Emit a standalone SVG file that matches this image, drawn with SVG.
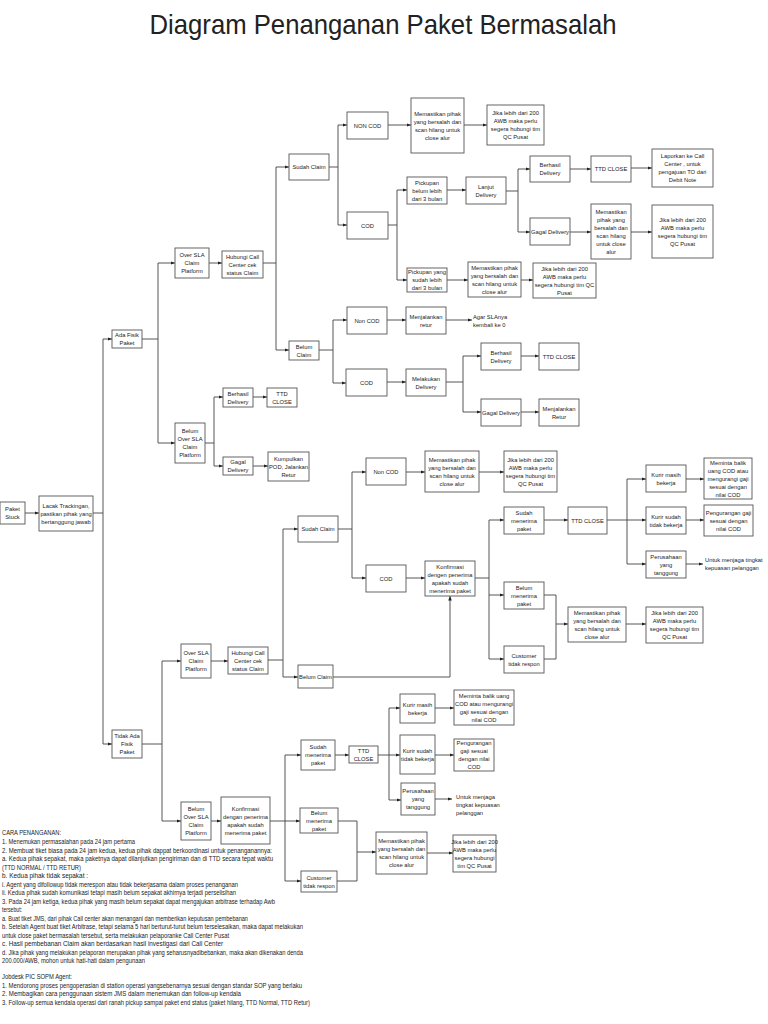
<svg xmlns="http://www.w3.org/2000/svg" width="768" height="1024" viewBox="0 0 768 1024">
<style>
.n rect{fill:#fff;stroke:#555;stroke-width:0.9}
.n text,.t{font-family:"Liberation Sans",Arial,sans-serif;font-size:5.8px;fill:#222;text-anchor:middle}
.t{text-anchor:start}
.c path{fill:none;stroke:#444;stroke-width:0.9}
.note{font-family:"Liberation Sans",Arial,sans-serif;font-size:6.6px;fill:#222}
</style>
<defs>
<marker id="a" viewBox="0 0 10 10" refX="10" refY="5" markerWidth="4.5" markerHeight="4.5" markerUnits="userSpaceOnUse" orient="auto"><path d="M0,1L10,5L0,9z" fill="#222"/></marker>
</defs>
<rect width="768" height="1024" fill="#fff"/>
<text x="383" y="34" font-family="Liberation Sans,Arial,sans-serif" font-size="28" fill="#222" text-anchor="middle" textLength="467" lengthAdjust="spacingAndGlyphs">Diagram Penanganan Paket Bermasalah</text>

<g class="c" marker-end="url(#a)">
<path d="M25,513H39"/>
<path d="M93,513H103V339H112"/>
<path d="M103,513V744H112"/>
<path d="M142,339H158V263H175"/>
<path d="M158,339V443H175"/>
<path d="M209,263H222"/>
<path d="M263,263H276V167H289"/>
<path d="M276,263V350H289"/>
<path d="M329,167H338V125H347"/>
<path d="M338,167V225H347"/>
<path d="M388,125H411"/>
<path d="M464,125H487"/>
<path d="M388,225H397V190H407"/>
<path d="M397,225V280H407"/>
<path d="M447,190H466"/>
<path d="M506,191H518V169H530"/>
<path d="M518,191V232H530"/>
<path d="M570,169H591"/>
<path d="M631,168H652"/>
<path d="M570,232H591"/>
<path d="M631,232H652"/>
<path d="M447,280H468"/>
<path d="M521,280H533"/>
<path d="M319,350H333V320H347"/>
<path d="M333,350V383H346"/>
<path d="M387,320H406"/>
<path d="M446,320H472"/>
<path d="M387,382H406"/>
<path d="M446,382H463V356H481"/>
<path d="M463,382V412H481"/>
<path d="M521,356H539"/>
<path d="M521,412H539"/>
<path d="M205,443H214V397H223"/>
<path d="M214,443V466H223"/>
<path d="M253,397H267"/>
<path d="M253,466H268"/>
<path d="M142,744H162V661H181"/>
<path d="M162,744V821H181"/>
<path d="M211,661H228"/>
<path d="M268,660H283V529H298"/>
<path d="M283,660V677H298"/>
<path d="M338,529H352V472H366"/>
<path d="M352,529V578H366"/>
<path d="M406,472H425"/>
<path d="M479,472H504"/>
<path d="M406,578H425"/>
<path d="M475,578H489V520H504"/>
<path d="M489,578V595H504"/>
<path d="M489,595V659H504"/>
<path d="M333,677H450V596"/>
<path d="M544,520H568"/>
<path d="M607,520H627V479H646"/>
<path d="M627,520H646"/>
<path d="M627,520V564H646"/>
<path d="M686,479H704"/>
<path d="M686,520H704"/>
<path d="M686,564H703"/>
<path d="M544,595H556V624H568"/>
<path d="M544,659H556V624" marker-end="none"/>
<path d="M626,624H646"/>
<path d="M211,821H221"/>
<path d="M270,821H285V755H301"/>
<path d="M285,821H300"/>
<path d="M285,821V881H301"/>
<path d="M335,755H349"/>
<path d="M378,755H389V708H400"/>
<path d="M389,755H400"/>
<path d="M389,755V800H401"/>
<path d="M435,708H454"/>
<path d="M435,755H454"/>
<path d="M435,799H452"/>
<path d="M338,821H357V852H376"/>
<path d="M337,881H357V852" marker-end="none"/>
<path d="M427,853H453"/>
</g>

<g id="n1" class="n"><rect x="0" y="502" width="25" height="22"/><text x="12.5" y="511">Paket<tspan x="12.5" dy="8">Stuck</tspan></text></g>
<g id="n2" class="n"><rect x="39" y="496" width="54" height="35"/><text x="66" y="507.5">Lacak Trackingan,<tspan x="66" dy="8">pastikan pihak yang</tspan><tspan x="66" dy="8">bertanggung jawab</tspan></text></g>
<g id="n3" class="n"><rect x="112" y="330" width="30" height="18"/><text x="127" y="337">Ada Fisik<tspan x="127" dy="8">Paket</tspan></text></g>
<g id="n4" class="n"><rect x="112" y="730" width="30" height="28"/><text x="127" y="738">Tidak Ada<tspan x="127" dy="8">Fisik</tspan><tspan x="127" dy="8">Paket</tspan></text></g>
<g id="n5" class="n"><rect x="175" y="248" width="34" height="30"/><text x="192" y="257">Over SLA<tspan x="192" dy="8">Claim</tspan><tspan x="192" dy="8">Platform</tspan></text></g>
<g id="n6" class="n"><rect x="222" y="251" width="41" height="27"/><text x="242.5" y="258.5">Hubungi Call<tspan x="242.5" dy="8">Center cek</tspan><tspan x="242.5" dy="8">status Claim</tspan></text></g>
<g id="n7" class="n"><rect x="289" y="154" width="40" height="26"/><text x="309" y="169">Sudah Claim</text></g>
<g id="n8" class="n"><rect x="347" y="112" width="41" height="27"/><text x="367.5" y="127.5">NON COD</text></g>
<g id="n9" class="n"><rect x="411" y="98" width="53" height="55"/><text x="437.5" y="115.5">Memastikan pihak<tspan x="437.5" dy="8">yang bersalah dan</tspan><tspan x="437.5" dy="8">scan hilang untuk</tspan><tspan x="437.5" dy="8">close alur</tspan></text></g>
<g id="n10" class="n"><rect x="487" y="105" width="57" height="40"/><text x="515.5" y="115">Jika lebih dari 200<tspan x="515.5" dy="8">AWB maka perlu</tspan><tspan x="515.5" dy="8">segera hubungi tim</tspan><tspan x="515.5" dy="8">QC Pusat</tspan></text></g>
<g id="n11" class="n"><rect x="347" y="212" width="41" height="27"/><text x="367.5" y="227.5">COD</text></g>
<g id="n12" class="n"><rect x="407" y="177" width="40" height="27"/><text x="427" y="184.5">Pickupan<tspan x="427" dy="8">belum lebih</tspan><tspan x="427" dy="8">dari 3 bulan</tspan></text></g>
<g id="n13" class="n"><rect x="466" y="177" width="40" height="27"/><text x="486" y="188.5">Lanjut<tspan x="486" dy="8">Delivery</tspan></text></g>
<g id="n14" class="n"><rect x="530" y="156" width="40" height="26"/><text x="550" y="167">Berhasil<tspan x="550" dy="8">Delivery</tspan></text></g>
<g id="n15" class="n"><rect x="591" y="156" width="40" height="26"/><text x="611" y="171">TTD CLOSE</text></g>
<g id="n16" class="n"><rect x="652" y="149" width="61" height="38"/><text x="682.5" y="158">Laporkan ke Call<tspan x="682.5" dy="8">Center , untuk</tspan><tspan x="682.5" dy="8">pengajuan TO dari</tspan><tspan x="682.5" dy="8">Debit Note</tspan></text></g>
<g id="n17" class="n"><rect x="530" y="218" width="40" height="27"/><text x="550" y="233.5">Gagal Delivery</text></g>
<g id="n18" class="n"><rect x="591" y="204" width="40" height="55"/><text x="611" y="213.5">Memastikan<tspan x="611" dy="8">pihak yang</tspan><tspan x="611" dy="8">bersalah dan</tspan><tspan x="611" dy="8">scan hilang</tspan><tspan x="611" dy="8">untuk close</tspan><tspan x="611" dy="8">alur</tspan></text></g>
<g id="n19" class="n"><rect x="652" y="205" width="61" height="53"/><text x="682.5" y="221.5">Jika lebih dari 200<tspan x="682.5" dy="8">AWB maka perlu</tspan><tspan x="682.5" dy="8">segera hubungi tim</tspan><tspan x="682.5" dy="8">QC Pusat</tspan></text></g>
<g id="n20" class="n"><rect x="407" y="268" width="40" height="24"/><text x="427" y="274">Pickupan yang<tspan x="427" dy="8">sudah lebih</tspan><tspan x="427" dy="8">dari 3 bulan</tspan></text></g>
<g id="n21" class="n"><rect x="468" y="262" width="53" height="35"/><text x="494.5" y="269.5">Memastikan pihak<tspan x="494.5" dy="8">yang bersalah dan</tspan><tspan x="494.5" dy="8">scan hilang untuk</tspan><tspan x="494.5" dy="8">close alur</tspan></text></g>
<g id="n22" class="n"><rect x="533" y="263" width="63" height="35"/><text x="564.5" y="270.5">Jika lebih dari 200<tspan x="564.5" dy="8">AWB maka perlu</tspan><tspan x="564.5" dy="8">segera hubungi tim QC</tspan><tspan x="564.5" dy="8">Pusat</tspan></text></g>
<g id="n23" class="n"><rect x="289" y="341" width="30" height="19"/><text x="304" y="348.5">Belum<tspan x="304" dy="8">Claim</tspan></text></g>
<g id="n24" class="n"><rect x="347" y="307" width="40" height="27"/><text x="367" y="322.5">Non COD</text></g>
<g id="n25" class="n"><rect x="406" y="307" width="40" height="27"/><text x="426" y="318.5">Menjalankan<tspan x="426" dy="8">retur</tspan></text></g>
<g id="n25b"><text class="t" x="473" y="319">Agar SLAnya<tspan x="473" dy="8">kembali ke 0</tspan></text></g>
<g id="n26" class="n"><rect x="346" y="369" width="41" height="27"/><text x="366.5" y="384.5">COD</text></g>
<g id="n27" class="n"><rect x="406" y="369" width="40" height="27"/><text x="426" y="380.5">Melakukan<tspan x="426" dy="8">Delivery</tspan></text></g>
<g id="n28" class="n"><rect x="481" y="343" width="40" height="27"/><text x="501" y="354.5">Berhasil<tspan x="501" dy="8">Delivery</tspan></text></g>
<g id="n29" class="n"><rect x="539" y="343" width="40" height="27"/><text x="559" y="358.5">TTD CLOSE</text></g>
<g id="n30" class="n"><rect x="481" y="399" width="40" height="27"/><text x="501" y="414.5">Gagal Delivery</text></g>
<g id="n31" class="n"><rect x="539" y="399" width="40" height="27"/><text x="559" y="410.5">Menjalankan<tspan x="559" dy="8">Retur</tspan></text></g>
<g id="n32" class="n"><rect x="175" y="423" width="30" height="40"/><text x="190" y="433">Belum<tspan x="190" dy="8">Over SLA</tspan><tspan x="190" dy="8">Claim</tspan><tspan x="190" dy="8">Platform</tspan></text></g>
<g id="n33" class="n"><rect x="223" y="388" width="30" height="19"/><text x="238" y="395.5">Berhasil<tspan x="238" dy="8">Delivery</tspan></text></g>
<g id="n34" class="n"><rect x="267" y="388" width="30" height="19"/><text x="282" y="395.5">TTD<tspan x="282" dy="8">CLOSE</tspan></text></g>
<g id="n35" class="n"><rect x="223" y="457" width="30" height="18"/><text x="238" y="464">Gagal<tspan x="238" dy="8">Delivery</tspan></text></g>
<g id="n36" class="n"><rect x="268" y="452" width="41" height="29"/><text x="288.5" y="460.5">Kumpulkan<tspan x="288.5" dy="8">POD, Jalankan</tspan><tspan x="288.5" dy="8">Retur</tspan></text></g>

<g id="n37" class="n"><rect x="181" y="644" width="30" height="34"/><text x="196" y="655">Over SLA<tspan x="196" dy="8">Claim</tspan><tspan x="196" dy="8">Platform</tspan></text></g>
<g id="n38" class="n"><rect x="228" y="647" width="40" height="27"/><text x="248" y="654.5">Hubungi Call<tspan x="248" dy="8">Center cek</tspan><tspan x="248" dy="8">status Claim</tspan></text></g>
<g id="n39" class="n"><rect x="298" y="516" width="40" height="26"/><text x="318" y="531">Sudah Claim</text></g>
<g id="n40" class="n"><rect x="366" y="458" width="40" height="27"/><text x="386" y="473.5">Non COD</text></g>
<g id="n41" class="n"><rect x="425" y="451" width="54" height="41"/><text x="452" y="461.5">Memastikan pihak<tspan x="452" dy="8">yang bersalah dan</tspan><tspan x="452" dy="8">scan hilang untuk</tspan><tspan x="452" dy="8">close alur</tspan></text></g>
<g id="n42" class="n"><rect x="504" y="451" width="53" height="41"/><text x="530.5" y="461.5">Jika lebih dari 200<tspan x="530.5" dy="8">AWB maka perlu</tspan><tspan x="530.5" dy="8">segera hubungi tim</tspan><tspan x="530.5" dy="8">QC Pusat</tspan></text></g>
<g id="n43" class="n"><rect x="366" y="565" width="40" height="27"/><text x="386" y="580.5">COD</text></g>
<g id="n44" class="n"><rect x="425" y="561" width="50" height="35"/><text x="450" y="568.5">Konfirmasi<tspan x="450" dy="8">dengen penerima</tspan><tspan x="450" dy="8">apakah sudah</tspan><tspan x="450" dy="8">menerima paket</tspan></text></g>
<g id="n45" class="n"><rect x="298" y="665" width="35" height="23"/><text x="315.5" y="678.5">Belum Claim</text></g>
<g id="n46" class="n"><rect x="504" y="507" width="40" height="27"/><text x="524" y="514.5">Sudah<tspan x="524" dy="8">menerima</tspan><tspan x="524" dy="8">paket</tspan></text></g>
<g id="n47" class="n"><rect x="568" y="507" width="39" height="27"/><text x="587.5" y="522.5">TTD CLOSE</text></g>
<g id="n48" class="n"><rect x="646" y="465" width="40" height="27"/><text x="666" y="476.5">Kurir masih<tspan x="666" dy="8">bekerja</tspan></text></g>
<g id="n49" class="n"><rect x="704" y="458" width="48" height="41"/><text x="728" y="464.5">Meminta balik<tspan x="728" dy="8">uang COD atau</tspan><tspan x="728" dy="8">mengurangi gaji</tspan><tspan x="728" dy="8">sesuai dengan</tspan><tspan x="728" dy="8">nilai COD</tspan></text></g>
<g id="n50" class="n"><rect x="646" y="507" width="40" height="27"/><text x="666" y="518.5">Kurir sudah<tspan x="666" dy="8">tidak bekerja</tspan></text></g>
<g id="n51" class="n"><rect x="704" y="505" width="49" height="31"/><text x="728.5" y="514.5">Pengurangan gaji<tspan x="728.5" dy="8">sesuai dengan</tspan><tspan x="728.5" dy="8">nilai COD</tspan></text></g>
<g id="n52" class="n"><rect x="646" y="551" width="40" height="27"/><text x="666" y="558.5">Perusahaan<tspan x="666" dy="8">yang</tspan><tspan x="666" dy="8">tanggung</tspan></text></g>
<g id="n52b"><text class="t" x="705" y="562">Untuk menjaga tingkat<tspan x="705" dy="8">kepuasan pelanggan</tspan></text></g>
<g id="n53" class="n"><rect x="504" y="582" width="40" height="27"/><text x="524" y="589.5">Belum<tspan x="524" dy="8">menerima</tspan><tspan x="524" dy="8">paket</tspan></text></g>
<g id="n54" class="n"><rect x="504" y="646" width="40" height="27"/><text x="524" y="657.5">Customer<tspan x="524" dy="8">tidak respon</tspan></text></g>
<g id="n55" class="n"><rect x="568" y="607" width="58" height="35"/><text x="597" y="614.5">Memastikan pihak<tspan x="597" dy="8">yang bersalah dan</tspan><tspan x="597" dy="8">scan hilang untuk</tspan><tspan x="597" dy="8">close alur</tspan></text></g>
<g id="n56" class="n"><rect x="646" y="607" width="57" height="36"/><text x="674.5" y="615">Jika lebih dari 200<tspan x="674.5" dy="8">AWB maka perlu</tspan><tspan x="674.5" dy="8">segera hubungi tim</tspan><tspan x="674.5" dy="8">QC Pusat</tspan></text></g>

<g id="n57" class="n"><rect x="400" y="694" width="35" height="29"/><text x="417.5" y="706.5">Kurir masih<tspan x="417.5" dy="8">bekerja</tspan></text></g>
<g id="n58" class="n"><rect x="454" y="690" width="60" height="35"/><text x="484" y="697.5">Meminta balik uang<tspan x="484" dy="8">COD atau mengurangi</tspan><tspan x="484" dy="8">gaji sesuai dengan</tspan><tspan x="484" dy="8">nilai COD</tspan></text></g>
<g id="n59" class="n"><rect x="301" y="740" width="34" height="30"/><text x="318" y="749">Sudah<tspan x="318" dy="8">menerima</tspan><tspan x="318" dy="8">paket</tspan></text></g>
<g id="n60" class="n"><rect x="349" y="746" width="29" height="17"/><text x="363.5" y="752.5">TTD<tspan x="363.5" dy="8">CLOSE</tspan></text></g>
<g id="n61" class="n"><rect x="400" y="735" width="35" height="39"/><text x="417.5" y="752.5">Kurir sudah<tspan x="417.5" dy="8">tidak bekerja</tspan></text></g>
<g id="n62" class="n"><rect x="454" y="739" width="40" height="32"/><text x="474" y="745">Pengurangan<tspan x="474" dy="8">gaji sesuai</tspan><tspan x="474" dy="8">dengan nilai</tspan><tspan x="474" dy="8">COD</tspan></text></g>
<g id="n63" class="n"><rect x="401" y="783" width="34" height="32"/><text x="418" y="793">Perusahaan<tspan x="418" dy="8">yang</tspan><tspan x="418" dy="8">tanggung</tspan></text></g>
<g id="n63b"><text class="t" x="456" y="799">Untuk menjaga<tspan x="456" dy="8">tingkat kepuasan</tspan><tspan x="456" dy="8">pelanggan</tspan></text></g>
<g id="n64" class="n"><rect x="181" y="802" width="30" height="38"/><text x="196" y="811">Belum<tspan x="196" dy="8">Over SLA</tspan><tspan x="196" dy="8">Claim</tspan><tspan x="196" dy="8">Platform</tspan></text></g>
<g id="n65" class="n"><rect x="221" y="797" width="49" height="47"/><text x="245.5" y="810.5">Konfirmasi<tspan x="245.5" dy="8">dengan penerima</tspan><tspan x="245.5" dy="8">apakah sudah</tspan><tspan x="245.5" dy="8">menerima paket</tspan></text></g>
<g id="n66" class="n"><rect x="300" y="808" width="38" height="25"/><text x="319" y="814.5">Belum<tspan x="319" dy="8">menerima</tspan><tspan x="319" dy="8">paket</tspan></text></g>
<g id="n67" class="n"><rect x="301" y="871" width="36" height="21"/><text x="319" y="879.5">Customer<tspan x="319" dy="8">tidak respon</tspan></text></g>
<g id="n68" class="n"><rect x="376" y="832" width="51" height="42"/><text x="401.5" y="843">Memastikan pihak<tspan x="401.5" dy="8">yang bersalah dan</tspan><tspan x="401.5" dy="8">scan hilang untuk</tspan><tspan x="401.5" dy="8">close alur</tspan></text></g>
<g id="n69" class="n"><rect x="453" y="835" width="43" height="37"/><text x="474.5" y="843.5">Jika lebih dari 200<tspan x="474.5" dy="8">AWB maka perlu</tspan><tspan x="474.5" dy="8">segera hubungi</tspan><tspan x="474.5" dy="8">tim QC Pusat</tspan></text></g>

<g id="notes" class="note" lengthAdjust="spacingAndGlyphs">
<text x="2" y="835" textLength="59" lengthAdjust="spacingAndGlyphs">CARA PENANGANAN:</text>
<text x="2" y="844" textLength="133" lengthAdjust="spacingAndGlyphs">1. Menemukan permasalahan pada 24 jam pertama</text>
<text x="2" y="852.5" textLength="270" lengthAdjust="spacingAndGlyphs">2. Membuat tiket biasa pada 24 jam kedua, kedua pihak dappat berkoordinasi untuk penanganannya:</text>
<text x="2" y="861" textLength="271" lengthAdjust="spacingAndGlyphs">a. Kedua pihak sepakat, maka paketnya dapat dilanjutkan pengiriman dan di TTD secara tepat waktu</text>
<text x="2" y="869.5" textLength="79" lengthAdjust="spacingAndGlyphs">(TTD NORMAL / TTD RETUR)</text>
<text x="2" y="878" textLength="86" lengthAdjust="spacingAndGlyphs">b. Kedua pihak tidak sepakat :</text>
<text x="2" y="886.5" textLength="236" lengthAdjust="spacingAndGlyphs">i. Agent yang difollowup tidak merespon atau tidak bekerjasama dalam proses penanganan</text>
<text x="2" y="895" textLength="234" lengthAdjust="spacingAndGlyphs">ii. Kedua pihak sudah komunikasi tetapi masih belum sepakat akhirnya terjadi perselisihan</text>
<text x="2" y="903.5" textLength="273" lengthAdjust="spacingAndGlyphs">3. Pada 24 jam ketiga, kedua pihak yang masih belum sepakat dapat mengajukan arbitrase terhadap Awb</text>
<text x="2" y="912" textLength="20" lengthAdjust="spacingAndGlyphs">tersebut:</text>
<text x="2" y="920.5" textLength="246" lengthAdjust="spacingAndGlyphs">a. Buat tiket JMS, dari pihak Call center akan menangani dan memberikan keputusan pembebanan</text>
<text x="2" y="929" textLength="301" lengthAdjust="spacingAndGlyphs">b. Setelah Agent buat tiket Arbitrase, tetapi selama 5 hari berturut-turut belum terselesaikan, maka dapat melakukan</text>
<text x="2" y="937.5" textLength="227" lengthAdjust="spacingAndGlyphs">untuk close paket bermasalah tersebut, serta melakukan pelaporanke Call Center Pusat</text>
<text x="2" y="946" textLength="221" lengthAdjust="spacingAndGlyphs">c. Hasil pembebanan Claim akan berdasarkan hasil investigasi dari Call Center</text>
<text x="2" y="954.5" textLength="301" lengthAdjust="spacingAndGlyphs">d. Jika pihak yang melakukan pelaporan merupakan pihak yang seharusnyadibebankan, maka akan dikenakan denda</text>
<text x="2" y="963" textLength="143" lengthAdjust="spacingAndGlyphs">200.000/AWB, mohon untuk hati-hati dalam pengunaan</text>
<text x="2" y="979" textLength="70" lengthAdjust="spacingAndGlyphs">Jobdesk PIC SOPM Agent:</text>
<text x="2" y="987.5" textLength="300" lengthAdjust="spacingAndGlyphs">1. Mendorong proses pengoperasian di station operasi yangsebenarnya sesuai dengan standar SOP yang berlaku</text>
<text x="2" y="996" textLength="239" lengthAdjust="spacingAndGlyphs">2. Membagikan cara penggunaan sistem JMS dalam menemukan dan follow-up kendala</text>
<text x="2" y="1004.5" textLength="308" lengthAdjust="spacingAndGlyphs">3. Follow-up semua kendala operasi dari ranah pickup sampai paket end status (paket hilang, TTD Normal, TTD Retur)</text>
</g>
</svg>
